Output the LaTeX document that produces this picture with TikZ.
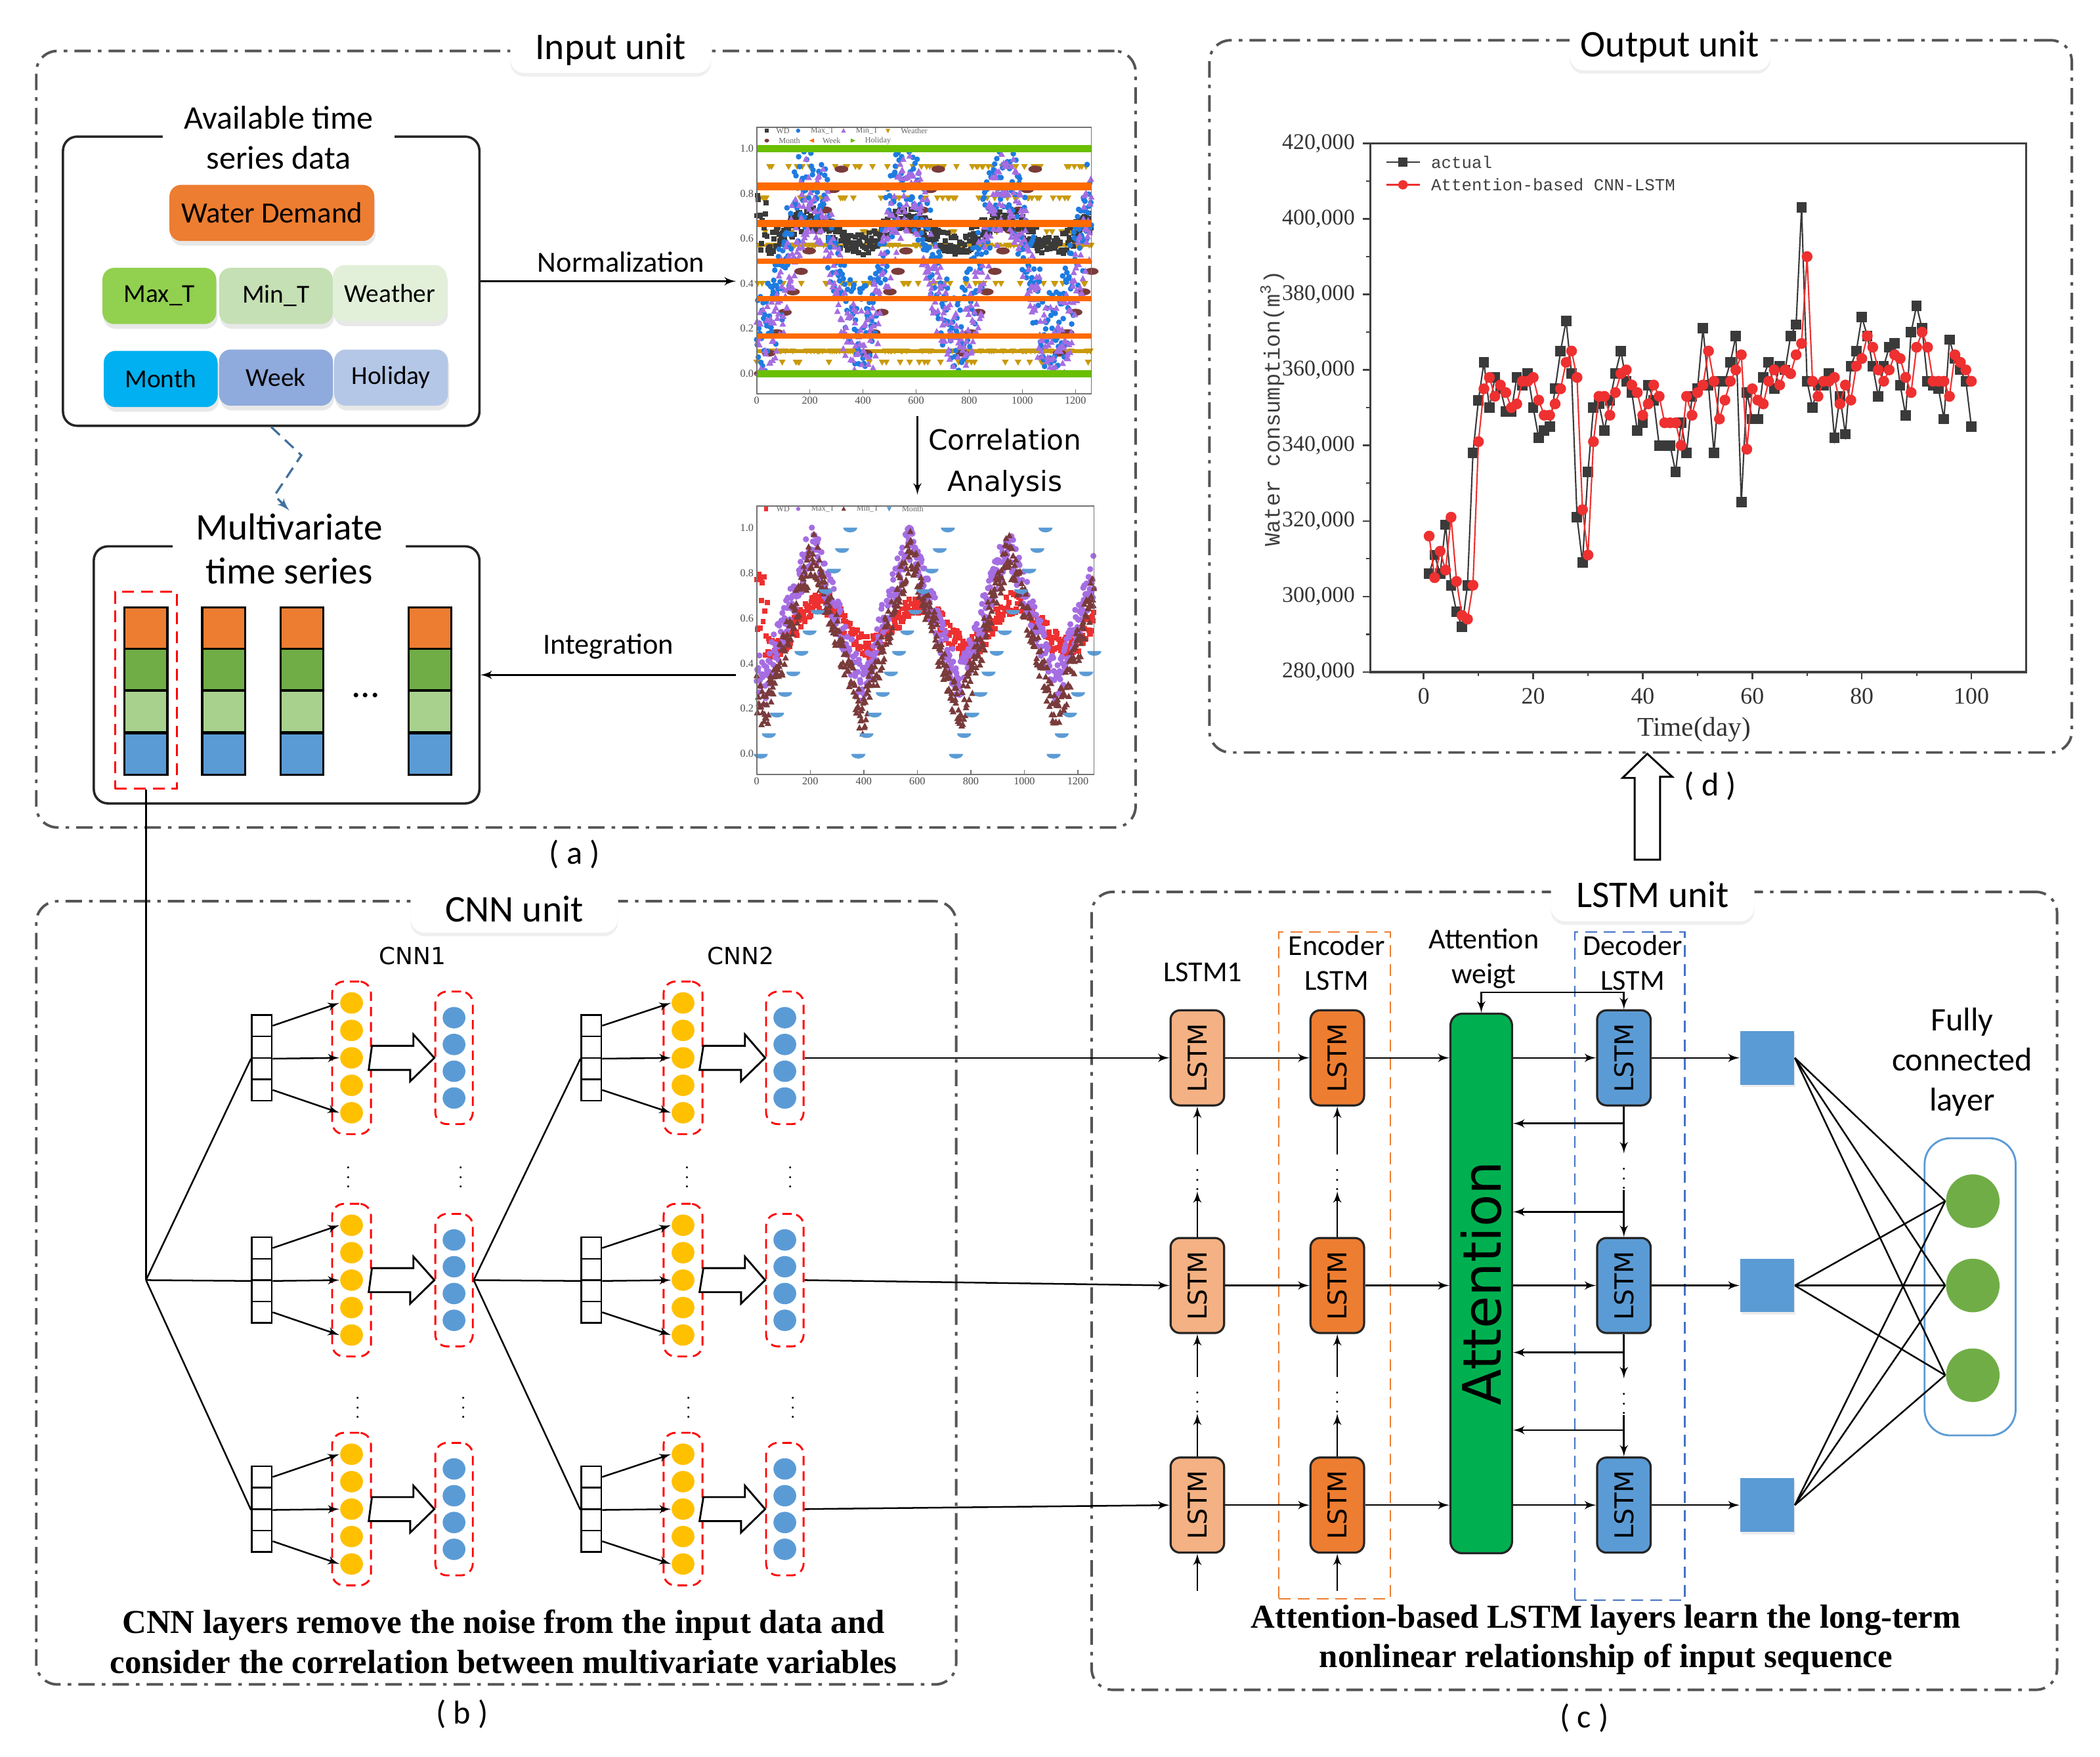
\documentclass[tikz,border=0pt]{standalone}
\usepackage{fontspec}
\usepackage{graphicx}
\setmainfont{Carlito}
\newfontfamily\dejavu{DejaVu Sans}
\newfontfamily\serifplot{Liberation Serif}
\newfontfamily\monoplot{Liberation Mono}
\usetikzlibrary{shapes,arrows,shadows,plotmarks}

\definecolor{unitgray}{HTML}{555555}
\definecolor{wdorange}{HTML}{ED7D31}
\definecolor{maxgreen}{HTML}{92D050}
\definecolor{mingreen}{HTML}{C5E0B4}
\definecolor{wthgreen}{HTML}{E2F0D9}
\definecolor{monthblue}{HTML}{00B0F0}
\definecolor{weekblue}{HTML}{8FAADC}
\definecolor{holblue}{HTML}{B4C7E7}
\definecolor{cellgreen}{HTML}{70AD47}
\definecolor{celllight}{HTML}{A9D18E}
\definecolor{cellblue}{HTML}{5B9BD5}
\definecolor{dotyellow}{HTML}{FFC000}
\definecolor{lstmlight}{HTML}{F4B183}
\definecolor{attgreen}{HTML}{00B050}
\definecolor{decblue}{HTML}{4472C4}
\definecolor{arrowblue}{HTML}{41719C}
% colours of the small plots
\definecolor{pwd}{HTML}{3A3A3A}
\definecolor{pmax}{HTML}{1E7BE0}
\definecolor{pmin}{HTML}{A56DE2}
\definecolor{pwth}{HTML}{C99A0C}
\definecolor{pmonth}{HTML}{7A3B3B}
\definecolor{pweek}{HTML}{FF6A00}
\definecolor{phol}{HTML}{6ABF00}
\definecolor{pred}{HTML}{EE3030}
\definecolor{pmonthb}{HTML}{5B9BD5}

\newcommand{\plottick}{\serifplot\fontsize{4.5}{5}\selectfont}
\newcommand{\plotleg}{\serifplot\fontsize{3.4}{4}\selectfont}

\tikzstyle{unitframe} = [draw=unitgray, line width=1.1pt, rounded corners=9pt,
    dash pattern=on 7pt off 3pt on 1.5pt off 3pt, inner sep=0pt]
\tikzstyle{unittitle} = [fill=white, rounded corners=6pt, inner sep=0pt,
    minimum width=3cm, minimum height=0.7cm, font=\fontsize{16}{19}\selectfont,
    drop shadow={opacity=0.12, shadow xshift=0pt, shadow yshift=-1.5pt}]
\tikzstyle{sublabel} = [font=\fontsize{14}{17}\selectfont]
\tikzstyle{databox} = [draw=black!85, line width=1pt, rounded corners=6pt, inner sep=0pt]
\tikzstyle{boxtitle} = [fill=white, rounded corners=6pt, align=center, inner sep=1pt]
\tikzstyle{feat} = [rounded corners=5pt, minimum width=1.7cm, minimum height=0.84cm,
    inner sep=0pt, font=\fontsize{11}{13}\selectfont,
    drop shadow={opacity=0.18, shadow xshift=0.5pt, shadow yshift=-2pt}]
\tikzstyle{cell} = [draw=black, line width=0.9pt, minimum width=0.64cm,
    minimum height=0.62cm, inner sep=0pt]
\tikzstyle{plotimg} = [inner sep=0pt, minimum width=5.4cm]
\tikzstyle{incell} = [draw=black, line width=0.7pt, minimum width=0.3cm,
    minimum height=0.32cm, inner sep=0pt]
\tikzstyle{ydot} = [ellipse, fill=dotyellow, minimum width=0.34cm,
    minimum height=0.32cm, inner sep=0pt]
\tikzstyle{bdot} = [ellipse, fill=cellblue, minimum width=0.34cm,
    minimum height=0.32cm, inner sep=0pt]
\tikzstyle{redframe} = [draw=red, line width=0.8pt, dash pattern=on 4pt off 2.5pt,
    rounded corners=5pt, inner sep=0pt]
\tikzstyle{hollow} = [draw=black, fill=white, line width=0.8pt]
\tikzstyle{vdot} = [inner sep=0pt, minimum height=0.5cm, font=\fontsize{7}{7}\selectfont]
\tikzstyle{lab} = [align=center, inner sep=1pt, font=\fontsize{12.3}{14.8}\selectfont]
\tikzstyle{lstm} = [draw=black!85, line width=0.9pt, rounded corners=4pt,
    minimum width=0.8cm, minimum height=1.42cm, inner sep=0pt,
    font=\dejavu\fontsize{11}{13}\selectfont]
\tikzstyle{attn} = [draw=black!85, line width=0.9pt, fill=attgreen, rounded corners=5pt,
    minimum width=0.92cm, minimum height=8.06cm, inner sep=0pt,
    font=\dejavu\fontsize{22.5}{26}\selectfont]
\tikzstyle{outsq} = [fill=cellblue, minimum size=0.8cm, inner sep=0pt,
    drop shadow={opacity=0.15, shadow xshift=0.5pt, shadow yshift=-1pt}]
\tikzstyle{fcnode} = [circle, fill=cellgreen, minimum size=0.8cm, inner sep=0pt]
\tikzstyle{caption} = [align=center, font=\serifplot\bfseries\fontsize{14.2}{17}\selectfont]

\begin{document}
\begin{tikzpicture}[x=0.02cm, y=-0.02cm, >=latex', line width=0.7pt]
\useasboundingbox[fill=white] (0,0) rectangle (1568,1312);
\pgfmathsetseed{42}

% We start by placing the four units
\node[unitframe, minimum width=16.42cm, minimum height=11.6cm] (inunit) at (437.5,328) {};
\node[unitframe, minimum width=12.88cm, minimum height=10.64cm] (outunit) at (1225,296) {};
\node[unitframe, minimum width=13.74cm, minimum height=11.7cm] (cnnunit) at (370.5,965.5) {};
\node[unitframe, minimum width=14.42cm, minimum height=11.92cm] (lstmunit) at (1175.5,964) {};
\node[unittitle] (intitle) at (456,37) {Input unit};
\node[unittitle] (outtitle) at (1247,35) {Output unit};
\node[unittitle, minimum width=3.1cm] (cnntitle) at (384,679) {CNN unit};
\node[unittitle, minimum width=3.04cm, minimum height=0.8cm] (lstmtitle) at (1234,668) {LSTM unit};
\node[sublabel] (suba) at (429,638) {( a )};
\node[sublabel] (subb) at (345,1280) {( b )};
\node[sublabel] (subc) at (1183,1283) {( c )};
\node[sublabel] (subd) at (1277,587) {( d )};

% Input unit: available data
\node[databox, minimum width=6.22cm, minimum height=4.32cm] (avail) at (202.5,210) {};
\node[boxtitle, minimum width=3.46cm, font=\fontsize{14}{17}\selectfont] (availtitle) at (208,103) {Available time\\series data};
\node[feat, fill=wdorange, minimum width=3.06cm, font=\fontsize{12.5}{15}\selectfont] (wd) at (203,159) {Water Demand};
\node[feat, fill=maxgreen] (maxt) at (119,221) {Max\_T};
\node[feat, fill=mingreen] (mint) at (206,221) {Min\_T};
\node[feat, fill=wthgreen] (wth) at (291,219) {Weather};
\node[feat, fill=monthblue] (month) at (120,283) {Month};
\node[feat, fill=weekblue] (week) at (206,282) {Week};
\node[feat, fill=holblue] (hol) at (292,282) {Holiday};

% Input unit: multivariate time series
\node[databox, minimum width=5.76cm, minimum height=3.84cm] (multi) at (214,504) {};
\node[boxtitle, minimum width=3.48cm, font=\fontsize{16}{18.8}\selectfont] (multititle) at (216,410) {Multivariate\\time series};
\foreach \xc [count=\ia] in {109,167,225.5,321}
  \foreach \yc/\col [count=\kk] in {469/wdorange, 500/cellgreen, 531.5/celllight, 563/cellblue}
    \node[cell, fill=\col] (cell\ia\kk) at (\xc,\yc) {};
\node[anchor=base, font=\fontsize{16}{16}\selectfont] (mdots) at (273,521) {...};
\node[draw=red, line width=0.9pt, dash pattern=on 5pt off 3pt, minimum width=0.92cm,
  minimum height=2.94cm, inner sep=0pt] (sel) at (109,515.5) {};

% the two small plots
\node[plotimg, minimum height=4.4cm] (plotnorm) at (685,200) {};
\node[plotimg, minimum height=4.52cm] (plotcorr) at (685,483) {};

\begin{scope}[shift={(565,279)}, x=0.00397cm, y=3.36cm]
  \foreach \tx in {0,4,...,1260} {
    \pgfmathrandominteger{\kk}{0}{13}
    \pgfmathsetmacro{\vv}{{0.05,0.1,0.1,0.1,0.4,0.4,0.57,0.57,0.57,0.63,0.78,0.78,0.92,0.92}[\kk]}
    \fill[pwth] (\tx,\vv) +(-1.4pt,1.1pt) -- +(1.4pt,1.1pt) -- +(0,-1.4pt) -- cycle;
  }
  \draw[pwth, line width=1.6pt] (0,0.1) -- (1260,0.1);
  \draw[pwth, line width=1pt] (0,0.57) -- (1260,0.57);
  \foreach \mon in {0,...,41} {
    \pgfmathsetmacro{\tm}{\mon*30.4+15}
    \pgfmathsetmacro{\vm}{mod(\mon,12)/11}
    \fill[pmonth] (\tm,\vm) ellipse (2.9pt and 1.5pt);
  }
  \foreach \tx in {0,3,...,1260} {
    \pgfmathsetmacro{\vv}{min(0.97,0.63+0.06*sin(0.9863*(\tx-110))+0.05*rand+(\tx<40)*0.25*rnd)}
    \fill[pwd] (\tx,\vv) +(-1.1pt,-1.1pt) rectangle +(1.1pt,1.1pt);
  }
  \foreach \tx in {0,2,...,1260} {
    \pgfmathsetmacro{\vv}{max(0,min(1,0.52+0.34*sin(0.9863*(\tx-110))+0.2*rand))}
    \fill[pmax] (\tx,\vv) circle (1.2pt);
  }
  \foreach \tx in {0,2,...,1260} {
    \pgfmathsetmacro{\vv}{max(0,min(1,0.45+0.36*sin(0.9863*(\tx-115))+0.2*rand))}
    \fill[pmin] (\tx,\vv) +(0,1.5pt) -- +(-1.4pt,-1.1pt) -- +(1.4pt,-1.1pt) -- cycle;
  }
  \foreach \vv in {0.167,0.333,0.5} \draw[pweek, line width=2.2pt] (0,\vv) -- (1260,\vv);
  \foreach \vv in {0.667,0.833} \draw[pweek, line width=3.2pt] (0,\vv) -- (1260,\vv);
  \foreach \vv in {0,1} \draw[phol, line width=3pt] (0,\vv) -- (1260,\vv);
  \draw[black!55, line width=0.5pt] (0,-0.089) rectangle (1260,1.095);
  \foreach \vv in {0.0,0.2,0.4,0.6,0.8,1.0}
    \node[anchor=east, font=\plottick, text=black!70, inner sep=1pt] at (0,\vv) {\vv};
  \foreach \tx in {0,200,...,1200} {
    \draw[black!55, line width=0.4pt] (\tx,-0.089) -- (\tx,-0.07);
    \node[anchor=north, font=\plottick, text=black!70, inner sep=1pt] at (\tx,-0.089) {\tx};
  }
  % legend
  \fill[pwd] (38,1.08) +(-0.9pt,-0.9pt) rectangle +(0.9pt,0.9pt);
  \fill[pmax] (156,1.08) circle (0.9pt);
  \fill[pmin] (327,1.08) +(0,1.1pt) -- +(-1pt,-0.8pt) -- +(1pt,-0.8pt) -- cycle;
  \fill[pwth] (494,1.08) +(-1pt,0.8pt) -- +(1pt,0.8pt) -- +(0,-1.1pt) -- cycle;
  \fill[pmonth] (38,1.036) ellipse (1pt and 0.8pt);
  \fill[pweek] (207,1.036) +(-1pt,0) -- +(1pt,0.9pt) -- +(1pt,-0.9pt) -- cycle;
  \fill[phol] (363,1.036) +(1pt,0) -- +(-1pt,0.9pt) -- +(-1pt,-0.9pt) -- cycle;
  \foreach \tx/\txt in {70/WD, 200/Max\_T, 370/Min\_T, 540/Weather}
    \node[anchor=west, font=\plotleg, text=black!60, inner sep=0pt] at (\tx,1.08) {\txt};
  \foreach \tx/\txt in {80/Month, 245/Week, 405/Holiday}
    \node[anchor=west, font=\plotleg, text=black!60, inner sep=0pt] at (\tx,1.036) {\txt};
\end{scope}

\begin{scope}[shift={(565,563)}, x=0.004cm, y=3.38cm]
  \foreach \tx in {0,3,...,1260} {
    \pgfmathsetmacro{\vv}{min(1,0.57+0.1*sin(0.9863*(\tx-150))+0.05*rand+(\tx<40)*0.35*rnd)}
    \fill[pred] (\tx,\vv) +(-1.1pt,-1.1pt) rectangle +(1.1pt,1.1pt);
  }
  \foreach \tx in {0,2,...,1260} {
    \pgfmathsetmacro{\vv}{max(0,min(1,0.3+0.64*abs(2*mod(\tx+523,365)/365-1)+0.09*rand))}
    \fill[pmin] (\tx,\vv) circle (1.3pt);
  }
  \foreach \tx in {0,2,...,1260} {
    \pgfmathsetmacro{\vv}{max(0,min(1,0.16+0.74*abs(2*mod(\tx+520,365)/365-1)+0.09*rand))}
    \fill[pmonth] (\tx,\vv) +(0,1.5pt) -- +(-1.4pt,-1.1pt) -- +(1.4pt,-1.1pt) -- cycle;
  }
  \foreach \mon in {0,...,41} {
    \pgfmathsetmacro{\tm}{\mon*30.4+15}
    \pgfmathsetmacro{\vm}{mod(\mon,12)/11}
    \fill[pmonthb] (\tm,\vm) ++(-3pt,0) arc[start angle=180, end angle=360, x radius=3pt, y radius=2pt] -- cycle;
  }
  \draw[black!55, line width=0.5pt] (0,-0.09) rectangle (1260,1.095);
  \foreach \vv in {0.0,0.2,0.4,0.6,0.8,1.0}
    \node[anchor=east, font=\plottick, text=black!70, inner sep=1pt] at (0,\vv) {\vv};
  \foreach \tx in {0,200,...,1200} {
    \draw[black!55, line width=0.4pt] (\tx,-0.09) -- (\tx,-0.07);
    \node[anchor=north, font=\plottick, text=black!70, inner sep=1pt] at (\tx,-0.09) {\tx};
  }
  \fill[pred] (35,1.083) +(-0.9pt,-0.9pt) rectangle +(0.9pt,0.9pt);
  \fill[pmin] (155,1.083) circle (0.9pt);
  \fill[pmonth] (325,1.083) +(0,1.1pt) -- +(-1pt,-0.8pt) -- +(1pt,-0.8pt) -- cycle;
  \fill[pmonthb] (495,1.083) +(-1pt,0.8pt) -- +(1pt,0.8pt) -- +(0,-1.1pt) -- cycle;
  \foreach \tx/\txt in {70/WD, 200/Max\_T, 370/Min\_T, 540/Month}
    \node[anchor=west, font=\plotleg, text=black!60, inner sep=0pt] at (\tx,1.083) {\txt};
\end{scope}

% Once the nodes are placed, connecting them is easy.
\draw[->] (avail.east) -- (avail.east -| plotnorm.west) node[pos=0.55, above, font=\fontsize{12.4}{15}\selectfont] {Normalization};
\draw[->] (plotnorm.south) -- (plotcorr.north) node[pos=0.6, right=1pt, align=center, font=\dejavu\fontsize{11.8}{17.5}\selectfont] {Correlation\\Analysis};
\draw[->] (multi.east -| plotcorr.west) -- (multi.east) node[pos=0.5, above=3pt, font=\fontsize{12.4}{15}\selectfont] {Integration};
\draw[->, arrowblue, line width=0.9pt, dash pattern=on 5pt off 3pt] (avail.south) -- (225,340) -- (205,370) -- (multititle.north);

% CNN unit
\node[font=\dejavu\fontsize{10}{12}\selectfont] (cnn1lab) at (308,714) {CNN1};
\node[font=\dejavu\fontsize{10}{12}\selectfont] (cnn2lab) at (553,714) {CNN2};
\foreach \rw/\yc in {1/790, 2/956, 3/1127} {
  \foreach \lay/\xin/\xy/\xb in {1/195.5/262.5/339, 2/441.5/510/586} {
    \foreach \kk in {1,...,4}
      \node[incell] (in\lay\rw\kk) at (\xin,\yc-40+16*\kk) {};
    \foreach \kk in {1,...,5}
      \node[ydot] (y\lay\rw\kk) at (\xy,\yc-61.5+20.5*\kk) {};
    \foreach \kk in {1,...,4}
      \node[bdot] (b\lay\rw\kk) at (\xb,\yc-50+20*\kk) {};
    \node[redframe, minimum width=0.58cm, minimum height=2.28cm] (yf\lay\rw) at (\xy,\yc) {};
    \node[redframe, minimum width=0.56cm, minimum height=1.98cm] (bf\lay\rw) at (\xb,\yc) {};
    \draw[->] (in\lay\rw1.east) -- (y\lay\rw1.west);
    \draw[->] (in\lay\rw2.south east) -- (y\lay\rw3.west);
    \draw[->] (in\lay\rw4.east) -- (y\lay\rw5.west);
    \draw[hollow] (yf\lay\rw.east) ++(0,-9) -- ++(31,0) -- ++(0,-8.5) -- (bf\lay\rw.west)
      -- ++(-18,17.5) -- ++(0,-8.5) -- ++(-31,0) -- cycle;
  }
}
\foreach \xc/\yd [count=\ia] in {260/874, 267/1046, 344/874, 346/1046, 513/874, 514/1046, 590/874, 592/1046}
  \node[vdot] (cdot\ia) at (\xc,\yd) {$\vdots$};
\coordinate (split) at (109,956);
\draw (sel.south) -- (split);
\foreach \rw in {1,2,3} {
  \draw (split) -- (in1\rw2.south west);
  \draw (bf12.east) -- (in2\rw2.south west);
}
\node[caption] (cnncap) at (376,1226) {CNN layers remove the noise from the input data and\\consider the correlation between multivariate variables};

% LSTM unit
\node[draw=wdorange, line width=0.6pt, dash pattern=on 5pt off 3pt, minimum width=1.66cm, minimum height=9.96cm] (encframe) at (996.5,945) {};
\node[draw=decblue, line width=0.6pt, dash pattern=on 5pt off 3pt, minimum width=1.64cm, minimum height=9.98cm] (decframe) at (1217,945.5) {};
\node[lab] (lstm1lab) at (898,726) {LSTM1};
\node[lab] (enclab) at (998,719) {Encoder\\LSTM};
\node[lab] (attlab) at (1108,716) {Attention\\weigt};
\node[lab] (declab) at (1219,719) {Decoder\\LSTM};
\node[lab, font=\fontsize{14}{17}\selectfont] (fclab) at (1465,793) {Fully\\connected\\layer};
\node[attn] (att) at (1106,958.5) {\rotatebox{90}{Attention}};
\foreach \rw/\yc in {1/790, 2/960, 3/1124} {
  \node[lstm, fill=lstmlight] (l1\rw) at (894,\yc) {\rotatebox{90}{LSTM}};
  \node[lstm, fill=wdorange] (enc\rw) at (998.5,\yc) {\rotatebox{90}{LSTM}};
  \node[lstm, fill=cellblue] (dec\rw) at (1212.5,\yc) {\rotatebox{90}{LSTM}};
  \node[outsq] (sq\rw) at (1319.5,\yc) {};
  \draw[->] (bf2\rw.east) -- (l1\rw.west);
  \draw[->] (l1\rw) -- (enc\rw);
  \draw[->] (enc\rw.east) -- (enc\rw.east -| att.west);
  \draw[->] (dec\rw.west -| att.east) -- (dec\rw.west);
  \draw[->] (dec\rw) -- (sq\rw);
}
\foreach \col/\xc in {l1/894, enc/998.5} {
  \node[vdot] (\col dota) at (\xc,876) {$\vdots$};
  \node[vdot] (\col dotb) at (\xc,1042) {$\vdots$};
  \draw[->] (\col2.north) -- (\col dota.south);
  \draw[->] (\col dota.north) -- (\col1.south);
  \draw[->] (\col3.north) -- (\col dotb.south);
  \draw[->] (\col dotb.north) -- (\col2.south);
  \coordinate (\col in) at (\xc,1188);
  \draw[->] (\col in) -- (\col3.south);
}
\node[vdot] (decdota) at (1212.5,875) {$\vdots$};
\node[vdot] (decdotb) at (1212.5,1043) {$\vdots$};
\draw[->] (dec1.south) -- (decdota.north);
\draw[->] (decdota.south) -- (dec2.north);
\draw[->] (dec2.south) -- (decdotb.north);
\draw[->] (decdotb.south) -- (dec3.north);
\foreach \yb [count=\ia] in {839,905,1010,1068} {
  \coordinate (fb\ia) at (1212.5,\yb);
  \draw[->] (fb\ia) -- (fb\ia -| att.east);
}
\coordinate (awline) at (1160,741);
\draw[<->] (att.north) -- (awline -| att.north) -- (awline -| dec1.north) -- (dec1.north);
% fully connected layer
\node[draw=cellblue, line width=0.8pt, rounded corners=11pt, minimum width=1.36cm, minimum height=4.44cm] (fcframe) at (1471,961) {};
\foreach \jb/\yc in {1/897, 2/960, 3/1027}
  \node[fcnode] (fc\jb) at (1473,\yc) {};
\foreach \ia in {1,2,3}
  \foreach \jb in {1,2,3}
    \draw (sq\ia.east) -- (fc\jb.west);
\node[caption] (lstmcap) at (1199,1224.5) {Attention-based LSTM layers learn the long-term\\nonlinear relationship of input sequence};

% from the LSTM unit to the output unit
\coordinate (upfoot) at (1230,642);
\draw[hollow] (upfoot) ++(-9.5,0) -- ++(19,0) -- ++(0,-62) -- ++(9,0) -- (upfoot |- outunit.south)
  -- ++(-18.5,18) -- ++(9,0) -- cycle;

% Output unit: the forecast
\begin{scope}[shift={(1063,502)}, x=0.0818cm, y=0.05642cm, yshift=-15.7976cm]
  \draw[black!75, line width=0.9pt] (-9.78,280) rectangle (110.02,420);
  \foreach \yv in {280,300,...,420} {
    \draw[black!75, line width=0.7pt] (-9.78,\yv) -- ++(-3pt,0);
    \node[anchor=east, inner sep=1pt, font=\serifplot\fontsize{9.5}{11}\selectfont, text=black!80] at (-12,\yv) {\yv,000};
  }
  \foreach \yv in {290,310,...,410}
    \draw[black!75, line width=0.6pt] (-9.78,\yv) -- ++(-1.8pt,0);
  \foreach \dx in {0,20,...,100} {
    \draw[black!75, line width=0.7pt] (\dx,280) -- ++(0,-3pt);
    \node[anchor=north, inner sep=1pt, font=\serifplot\fontsize{10}{12}\selectfont, text=black!80] at (\dx,276.5) {\dx};
  }
  \foreach \dx in {10,30,...,90}
    \draw[black!75, line width=0.6pt] (\dx,280) -- ++(0,-1.8pt);
  \draw[pwd, line width=0.6pt] plot[mark=square*, mark size=1.9pt, mark options={fill=pwd, draw=pwd}] coordinates {
    (1,306) (2,311) (3,306) (4,319) (5,303) (6,296) (7,292) (8,303) (9,338) (10,352)
    (11,362) (12,350) (13,358) (14,355) (15,349) (16,349) (17,358) (18,356) (19,359) (20,350)
    (21,342) (22,344) (23,345) (24,355) (25,365) (26,373) (27,359) (28,321) (29,309) (30,333)
    (31,350) (32,351) (33,344) (34,352) (35,359) (36,365) (37,357) (38,354) (39,344) (40,346)
    (41,356) (42,352) (43,340) (44,340) (45,340) (46,333) (47,346) (48,338) (49,353) (50,355)
    (51,371) (52,356) (53,338) (54,357) (55,357) (56,362) (57,369) (58,325) (59,354) (60,347)
    (61,347) (62,358) (63,362) (64,355) (65,361) (66,360) (67,369) (68,372) (69,403) (70,357)
    (71,350) (72,356) (73,356) (74,359) (75,342) (76,353) (77,343) (78,361) (79,365) (80,374)
    (81,369) (82,361) (83,353) (84,361) (85,366) (86,367) (87,356) (88,348) (89,370) (90,377)
    (91,371) (92,357) (93,356) (94,355) (95,347) (96,368) (97,363) (98,360) (99,357) (100,345)};
  \draw[pred, line width=0.6pt] plot[mark=*, mark size=2pt, mark options={fill=pred}] coordinates {
    (1,316) (2,305) (3,312) (4,307) (5,321) (6,304) (7,295) (8,294) (9,303) (10,341)
    (11,355) (12,358) (13,353) (14,356) (15,354) (16,350) (17,351) (18,357) (19,357) (20,358)
    (21,352) (22,348) (23,348) (24,351) (25,355) (26,362) (27,365) (28,358) (29,323) (30,311)
    (31,341) (32,353) (33,353) (34,348) (35,354) (36,359) (37,360) (38,356) (39,354) (40,348)
    (41,351) (42,356) (43,353) (44,346) (45,346) (46,346) (47,340) (48,353) (49,348) (50,354)
    (51,356) (52,365) (53,357) (54,347) (55,352) (56,357) (57,360) (58,364) (59,339) (60,355)
    (61,352) (62,351) (63,357) (64,360) (65,356) (66,360) (67,359) (68,364) (69,367) (70,390)
    (71,357) (72,353) (73,357) (74,357) (75,358) (76,351) (77,356) (78,352) (79,361) (80,363)
    (81,369) (82,366) (83,360) (84,357) (85,360) (86,364) (87,363) (88,358) (89,354) (90,366)
    (91,370) (92,366) (93,357) (94,357) (95,357) (96,353) (97,364) (98,362) (99,360) (100,357)};
\end{scope}
\draw[pwd, line width=0.6pt] (1035,121) -- (1060,121);
\fill[pwd] (1047.5,121) +(-1.9pt,-1.9pt) rectangle +(1.9pt,1.9pt);
\node[anchor=west, inner sep=0pt, font=\monoplot\fontsize{7.2}{8}\selectfont, text=black!75] (legact) at (1068,121) {actual};
\draw[pred, line width=0.6pt] (1035,138) -- (1060,138);
\fill[pred] (1047.5,138) circle (2pt);
\node[anchor=west, inner sep=0pt, font=\monoplot\fontsize{7.2}{8}\selectfont, text=black!75] (legpred) at (1068,138) {Attention-based CNN-LSTM};
\node[rotate=90, font=\monoplot\fontsize{9.4}{11}\selectfont, text=black!75] (ylab) at (950,305) {Water consumption(m\textsuperscript{3})};
\node[font=\serifplot\fontsize{11.5}{13}\selectfont, text=black!80] (xlab) at (1265,545) {Time(day)};
\end{tikzpicture}
\end{document}
